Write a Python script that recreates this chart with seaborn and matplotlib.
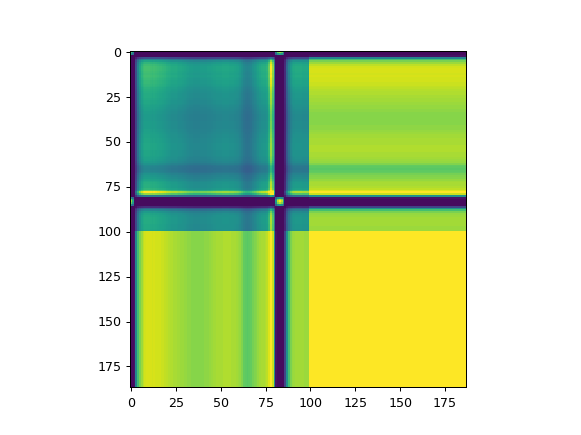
import numpy as np
import matplotlib
matplotlib.use('Agg')
import matplotlib.pyplot as plt
import seaborn as sns

# Signed loading per index inside the top-left block
block_loading = [
    -0.85, -0.60, 0.02, 0.30, 0.55, 0.70, 0.78, 0.82, 0.84, 0.84,
    0.84, 0.83, 0.82, 0.83, 0.82, 0.81, 0.80, 0.80, 0.79, 0.78,
    0.76, 0.75, 0.74, 0.73, 0.73, 0.73, 0.72, 0.71, 0.71, 0.70,
    0.69, 0.68, 0.67, 0.66, 0.66, 0.65, 0.65, 0.65, 0.65, 0.66,
    0.66, 0.66, 0.66, 0.67, 0.67, 0.68, 0.69, 0.69, 0.70, 0.70,
    0.70, 0.71, 0.71, 0.71, 0.71, 0.70, 0.70, 0.70, 0.69, 0.68,
    0.67, 0.65, 0.61, 0.57, 0.55, 0.54, 0.55, 0.57, 0.61, 0.64,
    0.66, 0.69, 0.72, 0.74, 0.75, 0.75, 0.78, 0.92, 1.20, 1.00,
    0.50, -0.55, -0.90, -1.00, -0.90, -0.55, 0.15, 0.40, 0.55, 0.65,
    0.70, 0.72, 0.73, 0.73, 0.73, 0.73, 0.72, 0.72, 0.72, 0.71,
]
# Value of the same stripes where they run into the last 87 rows and columns
edge_value = [
    0.00, 0.00, 0.05, 0.45, 0.70, 0.80, 0.85, 0.90, 0.93, 0.94,
    0.94, 0.94, 0.93, 0.94, 0.93, 0.93, 0.93, 0.92, 0.92, 0.91,
    0.90, 0.89, 0.88, 0.88, 0.87, 0.87, 0.86, 0.86, 0.85, 0.85,
    0.84, 0.84, 0.83, 0.83, 0.82, 0.82, 0.82, 0.82, 0.82, 0.82,
    0.82, 0.83, 0.83, 0.83, 0.84, 0.85, 0.86, 0.86, 0.87, 0.87,
    0.87, 0.87, 0.88, 0.88, 0.88, 0.88, 0.87, 0.87, 0.87, 0.86,
    0.85, 0.84, 0.81, 0.76, 0.75, 0.74, 0.75, 0.76, 0.79, 0.81,
    0.82, 0.84, 0.86, 0.87, 0.87, 0.88, 0.90, 0.95, 1.00, 0.92,
    0.50, 0.05, 0.00, 0.00, 0.00, 0.00, 0.20, 0.50, 0.70, 0.80,
    0.84, 0.85, 0.86, 0.86, 0.86, 0.86, 0.86, 0.85, 0.85, 0.85,
]
tick_values = [0, 25, 50, 75, 100, 125, 150, 175]

n_block = len(block_loading)
n_total = 187

matrix = np.ones((n_total, n_total))
matrix[:n_block, :n_block] = np.outer(block_loading, block_loading)
matrix[:n_block, n_block:] = np.array(edge_value)[:, None]
matrix[n_block:, :n_block] = np.array(edge_value)[None, :]
matrix = np.clip(matrix, 0.03, 1)

fig, ax = plt.subplots(figsize=(6.4, 4.8), dpi=90.8)
sns.heatmap(matrix, cmap='viridis', vmin=0, vmax=1, cbar=False, square=True, ax=ax)

ax.set_xticks([t + 0.5 for t in tick_values])
ax.set_xticklabels(tick_values, rotation=0)
ax.set_yticks([t + 0.5 for t in tick_values])
ax.set_yticklabels(tick_values, rotation=0)
for spine in ax.spines.values():
    spine.set_visible(True)

fig.savefig('out.png')
